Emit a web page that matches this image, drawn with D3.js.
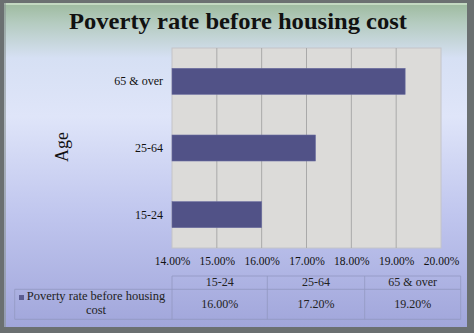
<!DOCTYPE html>
<html><head><meta charset="utf-8">
<script src="https://cdn.jsdelivr.net/npm/d3@7"></script>
<style>html,body{margin:0;padding:0;background:#6b7071;}svg{display:block;}</style>
</head><body>
<script>
const title = "Poverty rate before housing cost";
const categories = ["15-24", "25-64", "65 & over"];
const values = [16.0, 17.2, 19.2];
const xTicks = [14, 15, 16, 17, 18, 19, 20];
const axisTitle = "Age";
const seriesName = "Poverty rate before housing cost";

const W = 474, H = 333;
const svg = d3.select("body").append("svg").attr("width", W).attr("height", H);
const defs = svg.append("defs");
const g1 = defs.append("linearGradient").attr("id","bg").attr("x1",0).attr("y1",0).attr("x2",0).attr("y2",1);
[["0%","#9dba9e"],["6%","#b4cbbf"],["17%","#d6e0f4"],["35%","#dfe5f9"],["65%","#c0c6ee"],["100%","#a1a6db"]]
  .forEach(([o,c])=>g1.append("stop").attr("offset",o).attr("stop-color",c));

// frame
svg.append("rect").attr("x",0).attr("y",0).attr("width",W).attr("height",H).attr("fill","#6b7071");
svg.append("rect").attr("x",4).attr("y",3).attr("width",463).attr("height",324).attr("fill","url(#bg)");
svg.append("rect").attr("x",4).attr("y",3).attr("width",463).attr("height",2).attr("fill","#c6dcc4").attr("opacity",0.9);
svg.append("rect").attr("x",4).attr("y",3).attr("width",2).attr("height",324).attr("fill","#8a9494").attr("opacity",0.6);

const font = "'Liberation Serif','DejaVu Serif',serif";

svg.append("text").attr("x",238).attr("y",29).attr("text-anchor","middle")
  .attr("font-family",font).attr("font-weight","bold").attr("font-size",22.5).attr("fill","#111")
  .attr("textLength",338).attr("lengthAdjust","spacingAndGlyphs")
  .text(title);

const m = {l:172, r:441, t:48, b:248};
const x = d3.scaleLinear().domain([14,20]).range([m.l, m.r]);
const y = d3.scaleBand().domain(categories.slice().reverse()).range([m.t, m.b]).paddingInner(0.61).paddingOuter(0.305);

svg.append("rect").attr("x",m.l).attr("y",m.t).attr("width",m.r-m.l).attr("height",m.b-m.t)
  .attr("fill","#dcdbd9").attr("stroke","#c4c4c8").attr("stroke-width",1);

svg.append("g").selectAll("line").data(xTicks.slice(1,-1)).join("line")
  .attr("x1",d=>x(d)).attr("x2",d=>x(d)).attr("y1",m.t).attr("y2",m.b)
  .attr("stroke","#a9a9a9").attr("stroke-width",1);

svg.append("g").selectAll("rect").data(categories).join("rect")
  .attr("x",x(14)).attr("y",d=>y(d)).attr("height",y.bandwidth())
  .attr("width",(d,i)=>x(values[i])-x(14))
  .attr("fill","#515287").attr("stroke","#6a6ca0").attr("stroke-width",0.6);

// x axis labels
const xAxis = d3.axisBottom(x).tickValues(xTicks).tickSize(0).tickPadding(0)
  .tickFormat(d=>d3.format(".2f")(d)+"%");
const xa = svg.append("g").attr("transform",`translate(0,${m.b+9})`).call(xAxis);
xa.select(".domain").remove();
xa.selectAll("text").attr("font-family",font).attr("font-size",11.5).attr("fill","#111");

// y axis labels
const yAxis = d3.axisLeft(y).tickSize(0).tickPadding(9);
const ya = svg.append("g").attr("transform",`translate(${m.l},0)`).call(yAxis);
ya.select(".domain").remove();
ya.selectAll("text").attr("font-family",font).attr("font-size",12).attr("fill","#111");

svg.append("text").attr("transform","translate(68,147) rotate(-90)").attr("text-anchor","middle")
  .attr("font-family",font).attr("font-size",18).attr("fill","#111").text(axisTitle);

// data table
const colX = [172, 267.3, 364.7, 460.7];
const tTop = 276, tMid = 289.3, tBot = 319.3, tLeft = 14.7;
const tg = svg.append("g").attr("stroke","#9298c0").attr("stroke-width",0.8).attr("fill","none");
tg.append("line").attr("x1",colX[0]).attr("x2",colX[3]).attr("y1",tTop).attr("y2",tTop);
tg.append("line").attr("x1",tLeft).attr("x2",colX[3]).attr("y1",tMid).attr("y2",tMid);
tg.append("line").attr("x1",tLeft).attr("x2",colX[3]).attr("y1",tBot).attr("y2",tBot);
tg.append("line").attr("x1",tLeft).attr("x2",tLeft).attr("y1",tMid).attr("y2",tBot);
colX.forEach(cx=>tg.append("line").attr("x1",cx).attr("x2",cx).attr("y1",tTop).attr("y2",tBot));

categories.forEach((c,i)=>{
  const cx = (colX[i]+colX[i+1])/2;
  svg.append("text").attr("x",cx).attr("y",tMid-3.5).attr("text-anchor","middle")
    .attr("font-family",font).attr("font-size",12).attr("fill","#222").text(c);
  svg.append("text").attr("x",cx).attr("y",(tMid+tBot)/2+4).attr("text-anchor","middle")
    .attr("font-family",font).attr("font-size",12).attr("fill","#222").text(d3.format(".2f")(values[i])+"%");
});
svg.append("rect").attr("x",19).attr("y",295).attr("width",5).attr("height",5).attr("fill","#5a5c90");
svg.append("text").attr("x",96).attr("y",300).attr("text-anchor","middle")
  .attr("font-family",font).attr("font-size",12.5).attr("fill","#222").text("Poverty rate before housing");
svg.append("text").attr("x",96).attr("y",314).attr("text-anchor","middle")
  .attr("font-family",font).attr("font-size",12.5).attr("fill","#222").text("cost");
</script>
</body></html>
